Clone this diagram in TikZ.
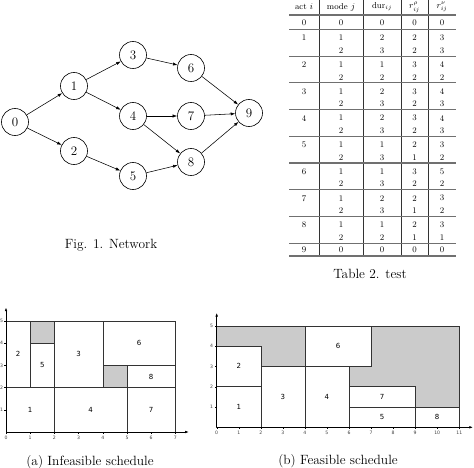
\documentclass[tikz,border=0pt]{standalone}
\usepackage{fontspec}
\newfontfamily\dejavu{DejaVu Sans}
\usetikzlibrary{arrows.meta}
\definecolor{fillgray}{HTML}{CBCBCB}
\definecolor{boxline}{HTML}{333333}
\definecolor{rulegray}{HTML}{707070}
\begin{document}
\begin{tikzpicture}[x=1pt,y=-1pt,
  vert/.style={circle,draw,line width=0.6pt,minimum size=27pt,inner sep=0pt,font=\fontsize{13}{15}\selectfont},
  edge/.style={-{Latex[length=4.5pt,width=3.2pt]},line width=0.55pt},
  captxt/.style={font=\fontsize{13.4}{16}\selectfont,inner sep=0pt},
  cell/.style={font=\fontsize{8.6}{10}\selectfont,inner sep=0pt},
  trule/.style={draw=rulegray,line width=1.1pt},
  tvert/.style={draw=black!80,line width=0.5pt},
  box/.style={draw=boxline,fill=white,line width=0.6pt},
  lab/.style={font=\dejavu\fontsize{7}{8}\selectfont,inner sep=0pt},
  tick/.style={font=\dejavu\fontsize{4.6}{5}\selectfont,inner sep=0pt,text=black!75},
  axis/.style={draw=black,line width=0.6pt,-{Latex[length=3.5pt,width=2.6pt]}}]
\useasboundingbox (0,0) rectangle (474,468);
\fill[white] (0,0) rectangle (474,468);
% ---------------- network ----------------
\node[vert] (n0) at (15,122) {0};
\node[vert] (n1) at (74,86) {1};
\node[vert] (n2) at (74,151) {2};
\node[vert] (n3) at (133,55) {3};
\node[vert] (n4) at (133,116) {4};
\node[vert] (n5) at (133,176) {5};
\node[vert] (n6) at (191,68) {6};
\node[vert] (n7) at (191,116) {7};
\node[vert] (n8) at (191,162) {8};
\node[vert] (n9) at (249,113) {9};
\foreach \s/\t in {0/1,0/2,1/3,1/4,2/5,3/6,4/7,4/8,5/8,6/9,7/9,8/9}
  \draw[edge] (n\s) -- (n\t);
\node[captxt] (fig1) at (111,245) {Fig. 1. Network};
% ---------------- table ----------------
\foreach \x in {319,363,401,428} \draw[tvert] (\x,0) -- (\x,256);
\foreach \y in {15,29.5,56.2,82.9,109.6,136.3,163,189.7,216.4,243.1,256}
  \draw[trule] (289,\y) -- (456,\y);
\node[cell] (h1) at (304,7) {act $i$};
\node[cell] (h2) at (341,7) {mode $j$};
\node[cell] (h3) at (382,7) {dur$_{ij}$};
\node[cell] (h4) at (414.5,7) {$r^{\rho}_{ij}$};
\node[cell] (h5) at (442,7) {$r^{\nu}_{ij}$};
\foreach \c/\x in {1/304,2/341,3/382,4/414.5,5/442} {
  \node[cell] (z\c) at (\x,22.3) {0};
  \node[cell] (w\c) at (\x,249.6) {\ifnum\c=1 9\else 0\fi};
}
\foreach \k/\da/\ra/\na/\db/\rb/\nb in {
  1/2/2/3/3/2/3, 2/1/3/4/2/2/2, 3/2/3/4/3/2/3, 4/2/3/4/3/2/3,
  5/1/2/3/3/1/2, 6/1/3/5/3/2/2, 7/2/2/3/3/1/2, 8/1/2/3/2/1/1} {
  \pgfmathsetmacro\ya{29.5+26.7*(\k-1)+8.5}
  \pgfmathsetmacro\yb{29.5+26.7*(\k-1)+21}
  \node[cell] (a\k) at (304,\ya) {\k};
  \node[cell] (m\k a) at (341,\ya) {1};
  \node[cell] (d\k a) at (382,\ya) {\da};
  \node[cell] (r\k a) at (414.5,\ya) {\ra};
  \node[cell] (v\k a) at (442,\ya) {\na};
  \node[cell] (m\k b) at (341,\yb) {2};
  \node[cell] (d\k b) at (382,\yb) {\db};
  \node[cell] (r\k b) at (414.5,\yb) {\rb};
  \node[cell] (v\k b) at (442,\yb) {\nb};
}
\node[captxt] (tab2) at (370,274) {Table 2. test};
% ---------------- schedule (a) ----------------
\begin{scope}[shift={(6pt,-432pt)},x=24.2pt,y=22.2pt]
  \fill[fillgray] (0,0) rectangle (7,5);
  \draw[boxline,line width=0.6pt] (0,0) rectangle (7,5);
  \foreach \xa/\ya/\xb/\yb/\l/\lx/\ly in {
    0/0/2/2/1/1/1, 0/2/1/5/2/0.5/3.5, 1/2/2/4/5/1.5/3, 2/2/4/5/3/3/3.5,
    2/0/5/2/4/3.5/1, 4/3/7/5/6/5.5/4, 5/2/7/3/8/6/2.5, 5/0/7/2/7/6/1} {
    \draw[box] (\xa,\ya) rectangle (\xb,\yb);
    \node[lab] (sa\l) at (\lx,\ly) {\l};
  }
  \coordinate (oa) at (0,0);
  \coordinate (xa) at (7.55,0);
  \coordinate (ya) at (0,5.6);
  \draw[axis] (oa) -- (xa);
  \draw[axis] (oa) -- (ya);
  \foreach \i in {0,...,7} {
    \draw[line width=0.4pt] (\i,0) -- (\i,-0.07);
    \node[tick] (txa\i) at (\i,-0.27) {\i};
  }
  \foreach \j in {1,...,5} {
    \draw[line width=0.4pt] (0,\j) -- (-0.07,\j);
    \node[tick] (tya\j) at (-0.18,\j) {\j};
  }
\end{scope}
\node[captxt] (capa) at (90,462) {(a) Infeasible schedule};
% ---------------- schedule (b) ----------------
\begin{scope}[shift={(216.7pt,-427.3pt)},x=22.05pt,y=20.3pt]
  \fill[fillgray] (0,0) rectangle (11,5);
  \draw[boxline,line width=0.6pt] (0,0) rectangle (11,5);
  \foreach \xa/\ya/\xb/\yb/\l/\lx/\ly in {
    0/0/2/2/1/1/1, 0/2/2/4/2/1/3, 2/0/4/3/3/3/1.5, 4/0/6/3/4/5/1.5,
    4/3/7/5/6/5.5/4, 6/1/9/2/7/7.5/1.5, 6/0/9/1/5/7.5/0.5, 9/0/11/1/8/10/0.5} {
    \draw[box] (\xa,\ya) rectangle (\xb,\yb);
    \node[lab] (sb\l) at (\lx,\ly) {\l};
  }
  \coordinate (ob) at (0,0);
  \coordinate (xb) at (11.62,0);
  \coordinate (yb) at (0,5.63);
  \draw[axis] (ob) -- (xb);
  \draw[axis] (ob) -- (yb);
  \foreach \i in {0,...,11} {
    \draw[line width=0.4pt] (\i,0) -- (\i,-0.08);
    \node[tick] (txb\i) at (\i,-0.28) {\i};
  }
  \foreach \j in {1,...,5} {
    \draw[line width=0.4pt] (0,\j) -- (-0.08,\j);
    \node[tick] (tyb\j) at (-0.23,\j) {\j};
  }
\end{scope}
\node[captxt] (capb) at (338,461) {(b) Feasible schedule};
\end{tikzpicture}
\end{document}
